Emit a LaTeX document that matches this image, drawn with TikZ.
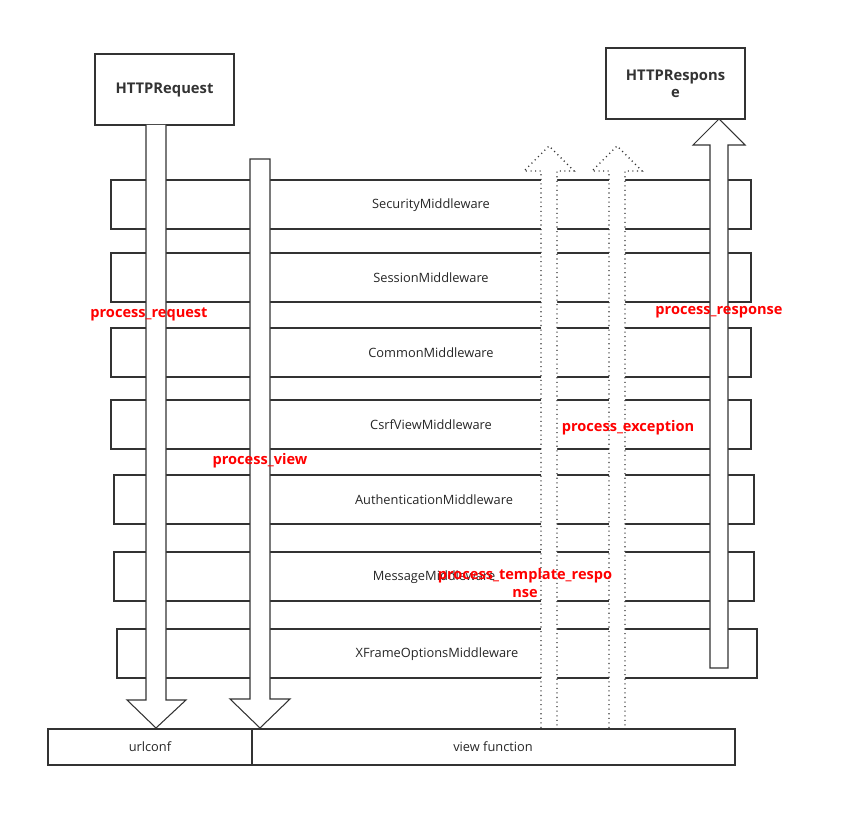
\documentclass[tikz,border=0pt]{standalone}
\usepackage{fontspec}
\setmainfont{Open Sans}
\begin{document}
\begin{tikzpicture}[x=0.02cm,y=-0.02cm,
  box/.style={draw=black!80,line width=0.6pt},
  mw/.style={font=\fontsize{7.3}{8}\selectfont,text=black!85},
  arr/.style={draw=black!80,fill=white,line width=0.6pt,line join=miter},
  dotarr/.style={arr,dotted,line width=0.8pt},
  lab/.style={font=\bfseries\fontsize{8.3}{10}\selectfont,text=red},
  big/.style={font=\bfseries\fontsize{8.4}{10}\selectfont,text=black!80,align=center}]
\useasboundingbox (0,0) rectangle (863,827);
% middleware rows
\foreach \x/\y/\t/\n in {111/180/SecurityMiddleware/a,111/253/SessionMiddleware/b,111/328/CommonMiddleware/c,111/400/CsrfViewMiddleware/d,114/475/AuthenticationMiddleware/e,114/552/MessageMiddleware/f,117/629/XFrameOptionsMiddleware/g}{
  \draw[box] (\x,\y) rectangle ++(640,49);
  \node[mw] (\n) at (\x+320,\y+25) {\t};
}
% top boxes
\draw[box] (95,54) rectangle (234,125);
\node[big] (req) at (164.5,90) {HTTPRequest};
\draw[box] (606,48) rectangle (745,119);
\node[big] (resp) at (675.5,84) {HTTPRespons\\e};
% bottom boxes
\draw[box] (48,729) rectangle (252,765);
\node[mw] (url) at (150,747) {urlconf};
\draw[box] (252,729) rectangle (735,765);
\node[mw] (view) at (493,747) {view function};
% down arrows
\draw[arr] (146,125) -- (146,700) -- (127,700) -- (156,728) -- (186,700) -- (166,700) -- (166,125);
\draw[arr] (250,159) -- (250,699) -- (230,699) -- (260,728) -- (290,699) -- (270,699) -- (270,159) -- cycle;
% dotted up arrows
\draw[dotarr] (541,728) -- (541,171) -- (524,171) -- (549,146) -- (574,171) -- (557,171) -- (557,728);
\draw[dotarr] (609,728) -- (609,171) -- (592,171) -- (617,146) -- (642,171) -- (625,171) -- (625,728);
% up arrow
\draw[arr] (710,668) -- (710,145) -- (693,145) -- (719,119) -- (745,145) -- (728,145) -- (728,668) -- cycle;
% labels
\node[lab] (l1) at (149,314) {process\_request};
\node[lab] (l2) at (260,461) {process\_view};
\node[lab] (l3) at (719,312) {process\_response};
\node[lab] (l4) at (628,428) {process\_exception};
\node[lab,align=center] (l5) at (525,583) {process\_template\_respo\\nse};
\end{tikzpicture}
\end{document}
